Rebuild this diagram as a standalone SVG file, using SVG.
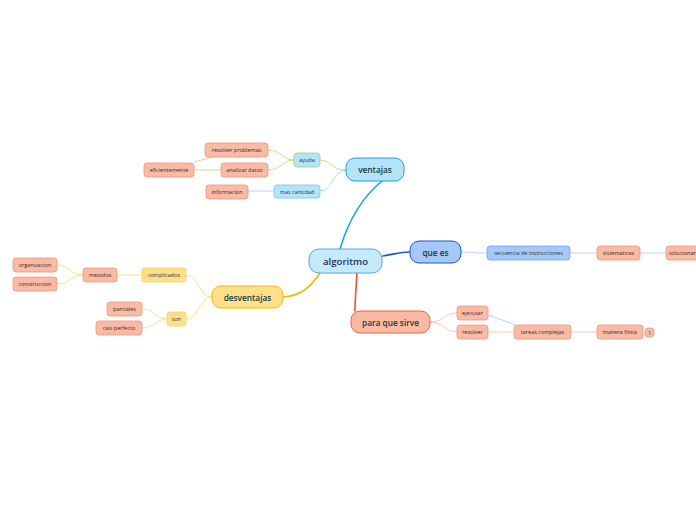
<svg xmlns="http://www.w3.org/2000/svg" width="696" height="520" viewBox="0 0 696 520">
<style>
text{font-family:"Open Sans","Noto Sans","Liberation Sans",sans-serif;text-anchor:middle;dominant-baseline:central}
.c{fill:none;stroke-linecap:round}
.leaf rect{fill:#f9bba6;stroke:#f39478;stroke-width:0.8}
.leaf text{font-size:5.5px;fill:#3b2a26}
.main text{font-size:8.3px;fill:#173c36;font-weight:600}
.sub text{font-size:5.5px;fill:#2a3340}
</style>
<rect width="696" height="520" fill="#ffffff"/>
<g id="connectors">
<path class="c" d="M340,249 C350,215 365,195 382,181" stroke="#1ba1e2" stroke-width="1.6"/>
<path class="c" d="M383,256 C395,254 400,252 410,252" stroke="#1a56c4" stroke-width="1.6"/>
<path class="c" d="M320,273 C310,288 300,296 283,297" stroke="#f5b800" stroke-width="1.6"/>
<path class="c" d="M357,272 C356,290 355,300 355,311" stroke="#f0522a" stroke-width="1.6"/>
<path class="c" d="M346,170 C330,170 332,160 320,160" stroke="#b5d96a" stroke-width="0.8"/>
<path class="c" d="M346,170 C332,170 334,191 320,191" stroke="#8fd3f5" stroke-width="0.8"/>
<path class="c" d="M294,160 C282,160 282,150 268,150" stroke="#b5d96a" stroke-width="0.8"/>
<path class="c" d="M294,160 C282,160 282,170 268,170" stroke="#b5d96a" stroke-width="0.8"/>
<path class="c" d="M221,170 L194,170" stroke="#b5d96a" stroke-width="0.8"/>
<path class="c" d="M194,162 L213,157" stroke="#b5d96a" stroke-width="0.8"/>
<path class="c" d="M274,191 L248,191" stroke="#8fd3f5" stroke-width="0.8"/>
<path class="c" d="M212,297 C198,297 200,275 186,275" stroke="#ffd966" stroke-width="0.8"/>
<path class="c" d="M212,297 C198,297 200,319 186,319" stroke="#ffd966" stroke-width="0.8"/>
<path class="c" d="M142,275 L117,275" stroke="#ffd966" stroke-width="0.8"/>
<path class="c" d="M83,275 C70,275 70,265 57,265" stroke="#ffd966" stroke-width="0.8"/>
<path class="c" d="M83,275 C70,275 70,284 57,284" stroke="#ffd966" stroke-width="0.8"/>
<path class="c" d="M167,319 C155,319 155,309 142,309" stroke="#ffd966" stroke-width="0.8"/>
<path class="c" d="M167,319 C155,319 155,328 142,328" stroke="#ffd966" stroke-width="0.8"/>
<path class="c" d="M461,252 C474,252 474,253 487,253" stroke="#a9c9f7" stroke-width="0.8"/>
<path class="c" d="M570,253 L597,253" stroke="#a9c9f7" stroke-width="0.8"/>
<path class="c" d="M640,253 L666,253" stroke="#a9c9f7" stroke-width="0.8"/>
<path class="c" d="M430,322 C444,322 444,313 457,313" stroke="#f9bba6" stroke-width="0.8"/>
<path class="c" d="M430,322 C444,322 444,332 457,332" stroke="#f9bba6" stroke-width="0.8"/>
<path class="c" d="M488,315 L516,325" stroke="#a9c9f7" stroke-width="0.8"/>
<path class="c" d="M488,332 L514,332" stroke="#f9bba6" stroke-width="0.8"/>
<path class="c" d="M571,332 L597,332" stroke="#f9bba6" stroke-width="0.8"/>
</g>
<g id="algoritmo"><rect x="309" y="249" width="73" height="24" rx="10" fill="#c5ebfb" stroke="#4fa9dc" stroke-width="1"/><text x="345.5" y="261.5" font-size="9.6" fill="#1f2d5a" font-weight="600">algoritmo</text></g>
<g id="ventajas" class="main"><rect x="346" y="158" width="58" height="23" rx="9" fill="#b4e4fa" stroke="#1ba1e2" stroke-width="1"/><text x="375" y="169.5">ventajas</text></g>
<g id="que-es" class="main"><rect x="410" y="241" width="51" height="22" rx="9" fill="#a5c8f8" stroke="#1a56c4" stroke-width="1"/><text x="435.5" y="252">que es</text></g>
<g id="desventajas" class="main"><rect x="212" y="286" width="71" height="22" rx="9" fill="#ffdf8a" stroke="#f5b800" stroke-width="1"/><text x="247.5" y="297">desventajas</text></g>
<g id="para-que-sirve" class="main"><rect x="351" y="311" width="79" height="22" rx="9" fill="#f9b9a3" stroke="#f0603a" stroke-width="1"/><text x="390.5" y="322">para que sirve</text></g>
<g id="ayuda" class="sub"><rect x="294" y="153" width="26" height="14" rx="3" fill="#b4e4fa" stroke="#a5d16a" stroke-width="0.8"/><text x="307" y="160">ayuda</text></g>
<g id="mas-cantidad" class="sub"><rect x="274" y="185" width="46" height="13" rx="3" fill="#b4e4fa" stroke="#6cc6f0" stroke-width="0.8"/><text x="297" y="191.5">mas cantidad</text></g>
<g id="resolver-problemas" class="leaf"><rect x="205" y="143" width="63" height="14" rx="3"/><text x="236.5" y="150">resolver problemas</text></g>
<g id="analizar-datos" class="leaf"><rect x="221" y="163" width="47" height="14" rx="3"/><text x="244.5" y="170">analizar datos</text></g>
<g id="eficientemente" class="leaf"><rect x="144" y="163" width="50" height="14" rx="3"/><text x="169" y="170">eficientemente</text></g>
<g id="informacion" class="leaf"><rect x="206" y="185" width="42" height="14" rx="3"/><text x="227" y="192">informacion</text></g>
<g id="complicados" class="sub"><rect x="142" y="268" width="44" height="14" rx="3" fill="#ffdf8a" stroke="#f7cf55" stroke-width="0.8"/><text x="164" y="275">complicados</text></g>
<g id="son" class="sub"><rect x="167" y="312" width="19" height="14" rx="3" fill="#ffdf8a" stroke="#f7cf55" stroke-width="0.8"/><text x="176.5" y="319">son</text></g>
<g id="metodos" class="leaf"><rect x="83" y="268" width="34" height="14" rx="3"/><text x="100" y="275">metodos</text></g>
<g id="organizacion" class="leaf"><rect x="13" y="258" width="44" height="14" rx="3"/><text x="35" y="265">organizacion</text></g>
<g id="construccion" class="leaf"><rect x="13" y="277" width="44" height="14" rx="3"/><text x="35" y="284">construccion</text></g>
<g id="parciales" class="leaf"><rect x="107" y="302" width="35" height="14" rx="3"/><text x="124.5" y="309">parciales</text></g>
<g id="casi-perfecto" class="leaf"><rect x="96" y="321" width="46" height="14" rx="3"/><text x="119" y="328">casi perfecto</text></g>
<g id="secuencia" class="sub"><rect x="487" y="246" width="83" height="14" rx="3" fill="#a5c8f8" stroke="#6fa3f0" stroke-width="0.8"/><text x="528.5" y="253">secuencia de instrucciones</text></g>
<g id="sistematicas" class="leaf"><rect x="597" y="246" width="43" height="14" rx="3"/><text x="618.5" y="253">sistematicas</text></g>
<g id="solucionar" class="leaf"><rect x="666" y="246" width="60" height="14" rx="3"/><text x="669" y="253" style="text-anchor:start">solucionar</text></g>
<g id="ejecutar" class="leaf"><rect x="457" y="306" width="31" height="14" rx="3"/><text x="472.5" y="313">ejecutar</text></g>
<g id="resolver" class="leaf"><rect x="457" y="325" width="31" height="14" rx="3"/><text x="472.5" y="332">resolver</text></g>
<g id="tareas-complejas" class="leaf"><rect x="514" y="325" width="57" height="14" rx="3"/><text x="542.5" y="332">tareas complejas</text></g>
<g id="manera-finita" class="leaf"><rect x="597" y="325" width="46" height="14" rx="3"/><text x="620" y="332">manera finita</text></g>
<g id="badge" class="leaf"><rect x="645" y="328" width="9" height="9" rx="3"/><text x="649.5" y="332.5" font-size="5">1</text></g>
</svg>
